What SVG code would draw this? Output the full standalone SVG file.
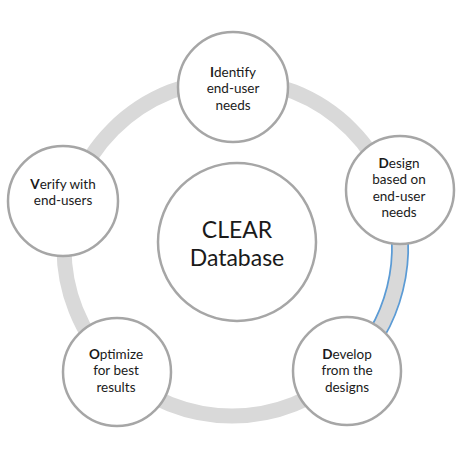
<svg xmlns="http://www.w3.org/2000/svg" width="474" height="458" viewBox="0 0 474 458">
<style>
.node{fill:#ffffff;stroke:#a6a6a6;stroke-width:2.5}
.t{font-family:Lato,"Open Sans","Liberation Sans",sans-serif;font-size:13.5px;fill:#1a1a1a;text-anchor:middle}
.big{font-size:23px}
.b{font-weight:bold}
</style>
<rect width="474" height="458" fill="#ffffff"/>
<g id="connectors">
<circle cx="232" cy="248" r="168" fill="none" stroke="#d9d9d9" stroke-width="15"/>
<path d="M390.8,193.3 A168,168 0 0 1 346.6,370.9" fill="none" stroke="#5b9bd5" stroke-width="18"/>
<path d="M390.8,193.3 A168,168 0 0 1 346.6,370.9" fill="none" stroke="#d9d9d9" stroke-width="14.5"/>
</g>
<g id="center">
<circle class="node" cx="237" cy="242" r="79"/>
<text class="t big" x="237" y="238">CLEAR</text>
<text class="t big" x="237" y="266">Database</text>
</g>
<g id="identify">
<circle class="node" cx="233" cy="87" r="55"/>
<text class="t" x="233" y="76.5"><tspan class="b">I</tspan>dentify</text>
<text class="t" x="233" y="93">end-user</text>
<text class="t" x="233" y="109.5">needs</text>
</g>
<g id="design">
<circle class="node" cx="400" cy="190" r="54"/>
<text class="t" x="399" y="167.5"><tspan class="b">D</tspan>esign</text>
<text class="t" x="399" y="184">based on</text>
<text class="t" x="399" y="200.5">end-user</text>
<text class="t" x="399" y="217">needs</text>
</g>
<g id="develop">
<circle class="node" cx="347" cy="371" r="54"/>
<text class="t" x="347" y="358.5"><tspan class="b">D</tspan>evelop</text>
<text class="t" x="347" y="375">from the</text>
<text class="t" x="347" y="391.5">designs</text>
</g>
<g id="optimize">
<circle class="node" cx="117" cy="372" r="54"/>
<text class="t" x="116" y="358.5"><tspan class="b">O</tspan>ptimize</text>
<text class="t" x="116" y="375">for best</text>
<text class="t" x="116" y="391.5">results</text>
</g>
<g id="verify">
<circle class="node" cx="63" cy="201" r="55"/>
<text class="t" x="63" y="188.5"><tspan class="b">V</tspan>erify with</text>
<text class="t" x="63" y="205">end-users</text>
</g>
</svg>
